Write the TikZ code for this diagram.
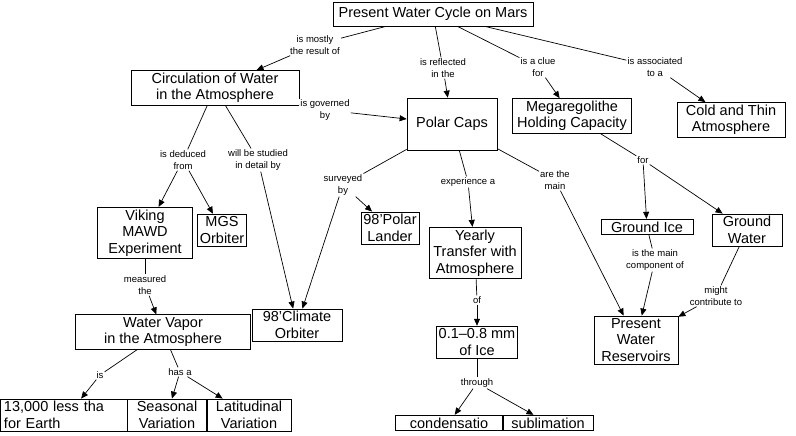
\documentclass[tikz,border=0pt]{standalone}
\usepackage{fontspec}
\setmainfont{Liberation Sans}
\usetikzlibrary{arrows.meta}
\begin{document}
\begin{tikzpicture}[x=1pt,y=-1pt,
  c/.style={draw,fill=white,align=center,font=\fontsize{14.5}{16.5}\selectfont,inner sep=2.5pt,line width=0.7pt},
  l/.style={align=center,font=\fontsize{9.5}{12}\selectfont,inner sep=1pt,fill=white},
  ln/.style={line width=0.7pt},
  ar/.style={line width=0.7pt,-{Triangle[length=7pt,width=6pt]}}]
\useasboundingbox (0,0) rectangle (796,436);
\node[c,minimum width=200,minimum height=24] (t) at (433,14) {Present Water Cycle on Mars};
\node[c,minimum width=168] (circ) at (215,88) {Circulation of Water\\in the Atmosphere};
\node[c,minimum width=90,minimum height=52] (pc) at (452,124) {Polar Caps};
\node[c,minimum width=119] (mega) at (572,116) {Megaregolithe\\Holding Capacity};
\node[c,minimum width=108] (cold) at (731,120) {Cold and Thin\\Atmosphere};
\node[c,minimum width=95] (vik) at (145,233) {Viking\\MAWD\\Experiment};
\node[c] (mgs) at (222,230) {MGS\\Orbiter};
\node[c,minimum width=90] (clim) at (297,325) {98'Climate\\Orbiter};
\node[c] (pl) at (390,228) {98'Polar\\Lander};
\node[c,minimum width=92] (yt) at (475,253) {Yearly\\Transfer with\\Atmosphere};
\node[c,minimum width=78] (mm) at (477,342) {0.1--0.8 mm\\of Ice};
\node[c,minimum width=107] (cond) at (449,423) {condensatio};
\node[c,minimum width=90] (subl) at (548,423) {sublimation};
\node[c,minimum width=92] (gi) at (647,227) {Ground Ice};
\node[c,minimum width=70] (gw) at (747,230) {Ground\\Water};
\node[c,minimum width=84] (res) at (636,340) {Present\\Water\\Reservoirs};
\node[c,minimum width=175] (wv) at (163,332) {Water Vapor\\in the Atmosphere};
\node[c,minimum width=135,text width=128,align=left] (e13) at (68,415) {13,000 less tha\\for Earth};
\node[c,minimum width=79] (sea) at (167,415) {Seasonal\\Variation};
\node[c,minimum width=84] (lat) at (249,415) {Latitudinal\\Variation};
% labels
\node[l] (l1) at (315,45) {is mostly\\the result of};
\node[l] (l2) at (443,68) {is reflected\\in the};
\node[l] (l3) at (538,67) {is a clue\\for};
\node[l] (l4) at (655,67) {is associated\\to a};
\node[l] (l5) at (325,110) {is governed\\by};
\node[l] (l6) at (183,160) {is deduced\\from};
\node[l] (l7) at (258,160) {will be studied\\in detail by};
\node[l] (l8) at (343,185) {surveyed\\by};
\node[l] (l9) at (468,182) {experience a};
\node[l] (l10) at (555,180) {are the\\main};
\node[l] (l11) at (643,160) {for};
\node[l] (l12) at (655,260) {is the main\\component of};
\node[l] (l13) at (716,296) {might\\contribute to};
\node[l] (l14) at (145,285) {measured\\the};
\node[l] (l15) at (477,300) {of};
\node[l] (l16) at (477,383) {through};
\node[l] (l17) at (100,375) {is};
\node[l] (l18) at (180,372) {has a};
% connectors
\draw[ln] (t) -- (l1); \draw[ar] (l1) -- (circ);
\draw[ln] (t) -- (l2); \draw[ar] (l2) -- (pc);
\draw[ln] (t) -- (l3); \draw[ar] (l3) -- (mega);
\draw[ln] (t) -- (l4); \draw[ar] (l4) -- (cold);
\draw[ln] (circ) -- (l5); \draw[ar] (l5) -- (pc);
\draw[ln] (circ) -- (l6); \draw[ar] (l6) -- (vik); \draw[ar] (l6) -- (mgs);
\draw[ln] (circ) -- (l7); \draw[ar] (l7) -- (clim);
\draw[ln] (pc) -- (l8); \draw[ar] (l8) -- (clim); \draw[ar] (l8) -- (pl);
\draw[ln] (pc) -- (l9); \draw[ar] (l9) -- (yt);
\draw[ln] (pc) -- (l10); \draw[ar] (l10) -- (res);
\draw[ln] (mega) -- (l11); \draw[ar] (l11) -- (gi); \draw[ar] (l11) -- (gw);
\draw[ln] (gi) -- (l12); \draw[ar] (l12) -- (res);
\draw[ln] (gw) -- (l13); \draw[ar] (l13) -- (res);
\draw[ln] (vik) -- (l14); \draw[ar] (l14) -- (wv);
\draw[ln] (yt) -- (l15); \draw[ar] (l15) -- (mm);
\draw[ln] (mm) -- (l16); \draw[ar] (l16) -- (cond); \draw[ar] (l16) -- (subl);
\draw[ln] (wv) -- (l17); \draw[ar] (l17) -- (e13);
\draw[ln] (wv) -- (l18); \draw[ar] (l18) -- (sea); \draw[ar] (l18) -- (lat);
\end{tikzpicture}
\end{document}
